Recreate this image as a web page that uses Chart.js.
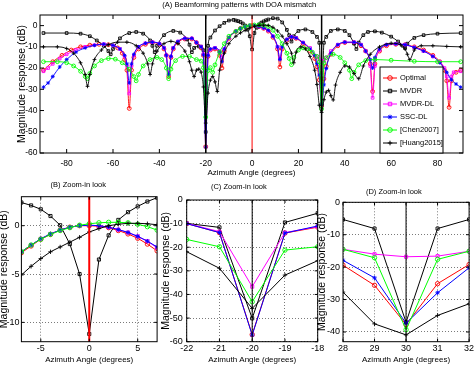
<!DOCTYPE html>
<html lang="en">
<head>
<meta charset="UTF-8">
<title>Beamforming patterns with DOA mismatch</title>
<style>
  body { margin: 0; background: #fff; }
  #wrap { position: relative; width: 474px; height: 366px; overflow: hidden; background: #fff; }
  canvas { position: absolute; }
</style>
</head>
<body>
<div id="wrap">
  <canvas id="chartA" width="474" height="180" style="left:0;top:0"></canvas>
  <canvas id="chartB" width="164" height="191" style="left:-2px;top:175px"></canvas>
  <canvas id="chartC" width="170" height="191" style="left:160px;top:175px"></canvas>
  <canvas id="chartD" width="158" height="191" style="left:316px;top:175px"></canvas>
</div>

<script src="https://cdn.jsdelivr.net/npm/chart.js"></script>
<script>
// ---- (A) full pattern, values read per series ----
const optAng = [-90,-86,-82,-78,-74,-70,-66,-62,-58,-56,-55,-54,-53,-52,-51,-49,-46,-43,-40,-38,-37,-36,-35,-34,-32,-29,-26,-24,-22,-21,-20,-19,-18,-16,-14,-13,-12,-10,-7,-5,-3,0,3,5,7,9,11,12,13,15,17,19,22,25,27,28,29,30,31,32,34,37,40,44,47,49,51,52,53,55,58,62,66,70,74,78,81,83,84,85,86,88,90];
const optVal = [-21,-17,-14,-11.5,-10,-9.2,-8.8,-9,-10.5,-13,-16,-21,-39,-21,-15,-11,-8.8,-8,-8.8,-11,-14,-24,-15,-11,-8,-6.3,-6.3,-8,-10.5,-14,-57,-14.5,-11.5,-11,-14,-20,-12,-6,-2.8,-1.3,-0.4,0,-0.5,-1.3,-2.6,-5.5,-11,-19.5,-11,-7,-5.5,-6,-8.5,-12,-15.5,-19.4,-25.6,-37.7,-25.1,-19.2,-13.5,-9.5,-8,-8,-9.5,-12,-18,-31,-18,-12,-9.5,-8.8,-9,-10,-11.5,-14,-17,-21,-26,-38.5,-26,-22,-21];

const mvdrAng = [-90,-80,-74,-70,-67,-64,-62,-61,-60,-57,-53,-50,-47,-44,-43,-42,-41,-38,-34,-31,-28,-27,-26,-25,-23,-22,-21,-20,-19,-18,-16,-14,-12,-10,-8,-7,-6,-5,-4,-3,-2,-1,0,1,2,3,4,5,6,7,9,11,13,15,16,17,18,20,23,26,28,29,30,31,32,34,37,40,42,44,45,46,48,50,53,56,60,63,65,66,67,70,74,80,90];
const mvdrVal = [-3.5,-3.5,-3.8,-5,-7,-9.5,-12,-13.5,-11,-6,-3.5,-3,-3.8,-7,-9.5,-12.5,-9.5,-4.5,-2.5,-3.3,-6.5,-9,-12.5,-10.5,-9.8,-9.9,-11.6,-50.1,-9.5,-5.6,-2.3,-0.3,1.3,2.4,2.7,2.4,2.1,1.7,1,0.05,-1.9,-5,-11.2,-3.5,-1,0.6,1.4,2,2.5,2.9,3.5,3.3,1.5,-2,-4.5,-7.5,-5,-2.5,-1.8,-3,-5.3,-8.1,-37,-8.1,-5.3,-2.5,-1.8,-2.5,-4.5,-8.5,-11,-8,-4.5,-3,-2.7,-3.3,-5.2,-7.5,-9.5,-10.5,-8.5,-5.8,-4.5,-3.8,-3.5];

const dlAng = [-90,-88,-86,-83,-80,-76,-72,-68,-64,-60,-57,-55,-54,-53,-52,-51,-49,-46,-43,-40,-38,-37,-36,-35,-34,-32,-29,-26,-24,-22,-21,-20,-19,-18,-16,-14,-13,-12,-10,-7,-5,-3,-1,1,3,5,7,9,11,12,13,15,17,19,22,25,28,29,30,31,32,34,37,40,44,47,49,51,52,53,55,58,62,66,70,74,78,81,83,84,85,86,87,90];
const dlVal = [-21.5,-20,-18,-15.5,-13.5,-11.5,-10,-9.2,-8.7,-9.3,-11,-14.5,-19,-32,-19,-14,-10,-8.3,-7.8,-8.5,-10.5,-14,-23,-14.5,-10.5,-7.5,-6,-6,-8,-9.9,-13.4,-36.7,-13.8,-11.3,-10.5,-12,-15,-11,-5.7,-2.7,-1.35,-0.45,0,0,-0.4,-1.1,-2.3,-5,-10,-15.5,-10,-6.5,-5.3,-5.8,-8,-10.5,-14.5,-16,-16.8,-16.6,-15.1,-12,-9,-7.8,-7.8,-9,-12,-19,-34,-19,-11.5,-9,-8.6,-9,-10.3,-12,-14.5,-17,-20,-24,-34,-24,-22,-21.5];

const sscAng = [-90,-88,-86,-83,-80,-76,-72,-68,-64,-60,-57,-55,-54,-53,-52,-51,-49,-46,-43,-40,-38,-37,-36,-35,-34,-32,-29,-26,-24,-22,-21,-20,-19,-18,-16,-14,-13,-12,-10,-7,-5,-3,-1,1,3,5,7,9,11,12,13,15,17,19,22,25,27,28,29,30,31,32,34,37,40,44,47,49,51,52,53,55,58,62,66,70,74,78,81,84,86,88,90];
const sscVal = [-29,-27,-24,-19.5,-16,-12.5,-10.5,-9.3,-8.7,-9.3,-11,-14,-18,-27,-18,-13.5,-10,-8.3,-7.8,-8.5,-10.5,-14,-23,-14.5,-10.5,-7.5,-6,-6,-8,-10,-13.8,-57.2,-14,-11,-10.5,-12.5,-17,-11,-5.7,-2.7,-1.35,-0.45,0,0,-0.4,-1.1,-2.2,-5,-10,-16,-10,-6.5,-5.3,-5.8,-8,-11,-14,-17.9,-23.3,-37.3,-27.9,-20.2,-13,-9,-7.8,-7.8,-9,-12,-16,-20,-15,-11,-9,-8.6,-9,-10.3,-12,-14.5,-17.5,-22,-25.5,-27.5,-29];

const chenAng = [-90,-84,-80,-77,-74,-72,-71,-70,-68,-65,-62,-59,-56,-53,-51,-50,-49,-47,-44,-41,-39,-37,-36,-35,-33,-30,-27,-24,-22,-21,-20,-19,-18,-17,-16,-14,-12,-10,-7,-5,-3,-1,1,3,5,7,9,11,13,15,16,17,18,20,22,24,26,28,29,30,31,32,35,38,40,42,43,44,46,49,53,60,70,80,90];
const chenVal = [-17,-17,-17.5,-19,-21.5,-24,-25,-22.5,-19,-16.5,-15.5,-15.8,-17.5,-20.5,-24,-26,-23,-19,-16,-15,-16,-20,-25,-20.5,-16.5,-14.5,-14.5,-16,-16.7,-19.8,-43.1,-21.2,-19.8,-22,-18.5,-12.5,-8.5,-5,-2.7,-1.4,-0.5,0.05,0.3,0.35,0.15,-0.45,-2.2,-5,-8.5,-13,-15.5,-18.4,-15,-11.5,-10.5,-11,-12.5,-14.5,-17.1,-39.3,-17.6,-15.1,-13.5,-15,-17.5,-21,-25,-22,-18.5,-16.5,-16,-16.3,-16.8,-17,-17];

const huangAng = [-90,-84,-80,-77,-74,-72,-71,-70,-68,-65,-62,-58,-54,-50,-47,-45,-44,-43,-41,-38,-35,-32,-29,-27,-26,-25,-24,-23,-22,-21,-20,-19,-18,-17,-16,-15,-14,-12,-10,-7,-5,-3,-1,1,3,5,7,9,11,13,15,17,18,19,21,23,25,27,28,29,30,31,32,33,34,35,36,38,40,42,44,46,48,51,55,60,64,66,67,68,70,73,78,84,90];
const huangVal = [-10,-10,-10.8,-13,-17.5,-23,-28.6,-23,-16,-11.5,-9,-7.8,-7.8,-9.5,-13,-18,-23,-18,-12,-8.5,-7.4,-8.5,-12,-17,-21,-24,-21,-20.5,-21.9,-28.9,-45.9,-31.8,-25.7,-24,-26.5,-31,-21,-13,-8.5,-5,-3.4,-2.2,-1.2,-0.3,0.15,0.25,0.1,-0.8,-2.5,-5,-8.5,-13,-17.5,-12.5,-10,-11,-14.5,-21,-27.7,-37.5,-40.9,-34.9,-31.3,-30.5,-33,-35,-28,-22,-19,-19.5,-22.5,-25,-19,-13.5,-10,-8.3,-9,-11,-13.5,-16,-11.5,-9.5,-9.5,-9.8,-10];

// ---- (B) zoom around the look direction ----
const angB = [-7,-6,-5,-4,-3,-2,-1,0,1,2,3,4,5,6,7];
const optB   = [-2.8,-2.1,-1.4,-0.9,-0.45,-0.15,0,0,-0.05,-0.2,-0.5,-0.85,-1.3,-1.9,-2.6];
const mvdrB  = [2.4,2.1,1.7,1,0.05,-1.9,-5,-11.2,-3.5,-1,0.6,1.4,2,2.5,2.9];
const dlB    = [-2.7,-2,-1.35,-0.85,-0.45,-0.15,0,0.05,0,-0.15,-0.4,-0.7,-1.1,-1.6,-2.3];
const sscB   = [-2.7,-2,-1.35,-0.85,-0.45,-0.15,0,0.05,0,-0.15,-0.4,-0.7,-1.1,-1.6,-2.2];
const chenB  = [-2.7,-2,-1.4,-0.9,-0.5,-0.2,0.05,0.2,0.3,0.35,0.35,0.3,0.15,-0.1,-0.45];
const huangB = [-5.1,-4.2,-3.4,-2.7,-2.2,-1.7,-1.2,-0.65,-0.3,0,0.15,0.25,0.25,0.2,0.1];

// ---- (C) zoom around the first interferer ----
const angC = [-22,-21,-20,-19,-18];
const optC   = [-10,-13.8,-57,-14,-11.5];
const mvdrC  = [-9.9,-11.6,-50.1,-9.5,-5.6];
const dlC    = [-9.9,-13.4,-36.7,-13.8,-11.3];
const sscC   = [-10,-13.8,-57.2,-14,-11];
const chenC  = [-16.7,-19.8,-43.1,-21.2,-19.8];
const huangC = [-21.9,-28.9,-45.9,-31.8,-25.7];

// ---- (D) zoom around the second interferer ----
const angD = [28,29,30,31,32];
const optD   = [-19.4,-25.6,-37.7,-25.1,-19.2];
const mvdrD  = [-5.3,-8.1,-37,-8.1,-5.3];
const dlD    = [-14.5,-16,-16.8,-16.6,-15.1];
const sscD   = [-17.9,-23.3,-37.3,-27.9,-20.2];
const chenD  = [-14.5,-17.1,-39.3,-17.6,-15.1];
const huangD = [-27.7,-37.5,-40.9,-34.9,-31.3];

// tick labels
const xTicksA = [-80,-60,-40,-20,0,20,40,60,80];
const yTicksA = [-60,-50,-40,-30,-20,-10,0];
const xTicksB = [-5,0,5];
const yTicksB = [-10,-5,0];
const xTicksC = [-22,-21,-20,-19,-18];
const yTicksC = [-60,-50,-40,-30,-20,-10,0];
const xTicksD = [28,29,30,31,32];
const yTicksD = [-40,-30,-20,-10,0];

// look direction and interferers
const lookDOA = 0;
const interfDOA = [-20, 30];

const FONT = "'Liberation Sans', Arial, sans-serif";
Chart.defaults.font.family = FONT;
Chart.defaults.color = '#000';

const styles = [
  {label: 'Optimal', color: '#ff0000', marker: 'circle'},
  {label: 'MVDR', color: '#000000', marker: 'rect'},
  {label: 'MVDR-DL', color: '#ff00ff', marker: 'rect'},
  {label: 'SSC-DL', color: '#0000ff', marker: 'star'},
  {label: '[Chen2007]', color: '#00ff00', marker: 'circle'},
  {label: '[Huang2015]', color: '#000000', marker: 'cross'}
];

function makeSets(list, radius, lw, smooth) {
  return list.map(([ang, val], i) => ({
    label: styles[i].label,
    data: ang.map((a, k) => ({x: a, y: val[k]})),
    borderColor: styles[i].color,
    backgroundColor: styles[i].color,
    pointBorderColor: styles[i].color,
    pointBackgroundColor: 'rgba(0,0,0,0)',
    pointStyle: styles[i].marker,
    pointRadius: radius,
    pointBorderWidth: 0.9,
    borderWidth: lw,
    cubicInterpolationMode: smooth ? 'monotone' : 'default',
    tension: 0,
    order: styles.length - i
  }));
}

function marker(ctx, style, x, y, r, color) {
  ctx.save();
  ctx.strokeStyle = color;
  ctx.lineWidth = 1;
  ctx.beginPath();
  if (style === 'circle') {
    ctx.arc(x, y, r, 0, Math.PI * 2);
  } else if (style === 'rect') {
    ctx.rect(x - r * 0.75, y - r * 0.75, r * 1.5, r * 1.5);
  } else {
    ctx.moveTo(x - r, y); ctx.lineTo(x + r, y);
    ctx.moveTo(x, y - r); ctx.lineTo(x, y + r);
    if (style === 'star') {
      const d = r * 0.7;
      ctx.moveTo(x - d, y - d); ctx.lineTo(x + d, y + d);
      ctx.moveTo(x - d, y + d); ctx.lineTo(x + d, y - d);
    }
  }
  ctx.stroke();
  ctx.restore();
}

// frame, inward ticks, tick labels and vertical reference lines
const framePlugin = {
  id: 'frame',
  afterDatasetsDraw(chart, args, opts) {
    const {ctx, chartArea: a, scales: {x, y}} = chart;
    const seg = (x1, y1, x2, y2) => { ctx.beginPath(); ctx.moveTo(x1, y1); ctx.lineTo(x2, y2); ctx.stroke(); };
    ctx.save();
    (opts.vlines || []).forEach(v => {
      const px = x.getPixelForValue(v.value);
      ctx.strokeStyle = v.color;
      ctx.lineWidth = v.width;
      seg(px, a.top, px, a.bottom);
    });
    ctx.strokeStyle = '#000';
    ctx.lineWidth = 1;
    ctx.strokeRect(a.left, a.top, a.right - a.left, a.bottom - a.top);
    const t = opts.tick || 3;
    ctx.fillStyle = '#000';
    ctx.font = opts.labelSize + 'px ' + FONT;
    x.ticks.forEach(tk => {
      const px = x.getPixelForValue(tk.value);
      seg(px, a.bottom, px, a.bottom - t);
      seg(px, a.top, px, a.top + t);
      ctx.textAlign = 'center';
      ctx.textBaseline = 'middle';
      ctx.fillText(String(tk.value), px, a.bottom + opts.xLabelOff);
    });
    y.ticks.forEach(tk => {
      const py = y.getPixelForValue(tk.value);
      seg(a.left, py, a.left + t, py);
      seg(a.right, py, a.right - t, py);
      ctx.textAlign = 'right';
      ctx.textBaseline = 'middle';
      ctx.fillText(String(tk.value), a.left - opts.yLabelGap, py);
    });
    ctx.restore();
  }
};

const legendPlugin = {
  id: 'innerLegend',
  afterDraw(chart) {
    const {ctx, chartArea: a} = chart;
    const w = 63, h = 86;
    const x0 = a.right - 20 - w, y0 = a.bottom - h;
    ctx.save();
    ctx.fillStyle = '#fff';
    ctx.fillRect(x0, y0, w, h);
    ctx.strokeStyle = '#000';
    ctx.lineWidth = 1;
    ctx.strokeRect(x0, y0, w, h);
    ctx.font = '7.5px ' + FONT;
    ctx.textBaseline = 'middle';
    chart.data.datasets.forEach((ds, i) => {
      const yy = y0 + 11 + i * 13;
      ctx.strokeStyle = ds.borderColor;
      ctx.beginPath(); ctx.moveTo(x0 + 3, yy); ctx.lineTo(x0 + 17, yy); ctx.stroke();
      marker(ctx, ds.pointStyle, x0 + 10, yy, 2.3, ds.borderColor);
      ctx.fillStyle = '#000';
      ctx.fillText(ds.label, x0 + 20, yy);
    });
    ctx.restore();
  }
};

function axis(min, max, ticks, fitSize, opts) {
  const horizontal = opts.horizontal;
  return {
    type: 'linear', min: min, max: max,
    afterBuildTicks: s => { s.ticks = ticks.map(v => ({value: v})); },
    afterFit: s => { if (horizontal) s.height = fitSize; else s.width = fitSize; },
    grid: opts.grid
      ? {display: true, drawTicks: false, color: 'rgba(0,0,0,0.75)', lineWidth: 0.7}
      : {display: false, drawTicks: false},
    border: {display: false, dash: [1, 2]},
    ticks: {display: false},
    title: {display: true, text: opts.title, color: '#000',
            font: opts.titleFont, padding: opts.titlePad}
  };
}

const xTitleFont = {size: 8, family: FONT};
const yTitleFont = {size: 10.5, family: FONT};

function build(id, cfg) {
  new Chart(document.getElementById(id), {
    type: 'line',
    data: {datasets: cfg.sets},
    options: {
      responsive: false,
      devicePixelRatio: 1,
      animation: false,
      layout: {padding: cfg.pad},
      plugins: {
        legend: {display: false},
        tooltip: {enabled: false},
        title: {display: true, text: cfg.title, color: '#000',
                font: {size: 7.5, weight: 'normal', family: FONT}, padding: cfg.titlePad},
        frame: {vlines: cfg.vlines, tick: cfg.tick, labelSize: cfg.labelSize,
                xLabelOff: cfg.xLabelOff, yLabelGap: cfg.yLabelGap}
      },
      scales: {
        x: axis(cfg.x[0], cfg.x[1], cfg.xt, cfg.xh,
                {horizontal: true, grid: cfg.grid, title: 'Azimuth Angle (degrees)',
                 titleFont: xTitleFont, titlePad: {top: 0, bottom: cfg.xtb}}),
        y: axis(cfg.y[0], cfg.y[1], cfg.yt, cfg.yw,
                {horizontal: false, grid: cfg.grid, title: 'Magnitude response (dB)',
                 titleFont: yTitleFont, titlePad: {top: 0, bottom: 0}})
      }
    },
    plugins: cfg.legend ? [framePlugin, legendPlugin] : [framePlugin]
  });
}

const blackLines = interfDOA.map(v => ({value: v, color: '#000', width: 1.5}));

build('chartA', {
  sets: makeSets([[optAng, optVal], [mvdrAng, mvdrVal], [dlAng, dlVal], [sscAng, sscVal],
                  [chenAng, chenVal], [huangAng, huangVal]], 1.9, 0.9, true),
  title: '(A) Beamforming patterns with DOA mismatch',
  titlePad: {top: 0.5, bottom: 5.5},
  pad: {left: 15.4, right: 11, top: 0, bottom: 0},
  x: [-91.5, 91], xt: xTicksA, xh: 27, xtb: 2.2,
  y: [-60, 5], yt: yTicksA, yw: 24.6,
  grid: false, tick: 4, legend: true,
  labelSize: 8.5, xLabelOff: 11, yLabelGap: 2.5,
  vlines: [{value: lookDOA, color: '#ff0000', width: 1}].concat(blackLines)
});

build('chartB', {
  sets: makeSets([[angB, optB], [angB, mvdrB], [angB, dlB], [angB, sscB], [angB, chenB], [angB, huangB]], 2.2, 1, false),
  title: '(B) Zoom-in look',
  titlePad: {top: 5.9, bottom: 6.8},
  pad: {left: 0, right: 3.4, top: 0, bottom: 0},
  x: [-7, 7], xt: xTicksB, xh: 24.3, xtb: 1.2,
  y: [-12, 3], yt: yTicksB, yw: 23.4,
  grid: true, tick: 3,
  labelSize: 9, xLabelOff: 7, yLabelGap: 2,
  vlines: [{value: lookDOA, color: '#ff0000', width: 2}]
});

build('chartC', {
  sets: makeSets([[angC, optC], [angC, mvdrC], [angC, dlC], [angC, sscC], [angC, chenC], [angC, huangC]], 2.2, 1, false),
  title: '(C) Zoom-in look',
  titlePad: {top: 7.8, bottom: 8.2},
  pad: {left: 0, right: 12.3, top: 0, bottom: 0},
  x: [-22, -18], xt: xTicksC, xh: 24.3, xtb: 1.2,
  y: [-60, 0], yt: yTicksC, yw: 26.7,
  grid: true, tick: 3,
  labelSize: 9, xLabelOff: 7, yLabelGap: 4,
  vlines: [{value: interfDOA[0], color: '#000', width: 1}]
});

build('chartD', {
  sets: makeSets([[angD, optD], [angD, mvdrD], [angD, dlD], [angD, sscD], [angD, chenD], [angD, huangD]], 2.2, 1, false),
  title: '(D) Zoom-in look',
  titlePad: {top: 12.8, bottom: 5.5},
  pad: {left: 0, right: 2.3, top: 0, bottom: 0},
  x: [28, 32], xt: xTicksD, xh: 24.3, xtb: 1.2,
  y: [-43, 0], yt: yTicksD, yw: 27,
  grid: true, tick: 3,
  labelSize: 9, xLabelOff: 7, yLabelGap: 3,
  vlines: [{value: interfDOA[1], color: '#000', width: 1}]
});
</script>
</body>
</html>
